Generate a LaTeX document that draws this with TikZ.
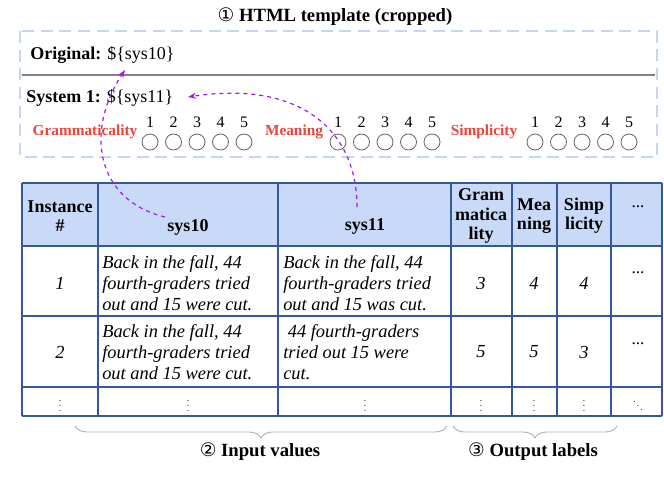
\documentclass[tikz,border=0pt]{standalone}
\usepackage{fontspec}
\setmainfont{Liberation Serif}
\newfontfamily\symf{DejaVu Sans}
\usetikzlibrary{decorations.pathreplacing,arrows.meta}
\definecolor{hdr}{HTML}{C9DAF8}
\definecolor{bord}{HTML}{34589A}
\definecolor{purp}{HTML}{9B1EF0}
\definecolor{redl}{HTML}{E8453C}
\definecolor{dashb}{HTML}{C5D6F5}
\tikzset{
 cell/.style={font=\fontsize{13.8}{16}\selectfont\itshape,align=left,inner sep=0pt},
 hcell/.style={font=\fontsize{13.5}{14.5}\selectfont\bfseries,align=center,inner sep=0pt},
 rate/.style={font=\fontsize{11.5}{13}\selectfont\bfseries,text=redl,inner sep=0pt},
 num/.style={font=\fontsize{12}{13}\selectfont,inner sep=0pt},
 radio/.style={circle,draw=gray!80!black,line width=0.6pt,minimum size=12pt,inner sep=0pt},
 link/.style={purp,dashed,line width=0.9pt,-{Stealth[length=6pt]}},
 brc/.style={draw=gray!60,line width=0.7pt,decorate,decoration={brace,mirror,amplitude=9pt}},
 lab/.style={font=\fontsize{14}{16}\selectfont\bfseries,inner sep=0pt}
}
\begin{document}
\begin{tikzpicture}[x=0.75pt,y=-0.75pt]
\useasboundingbox (0,0) rectangle (664,495);
% template
\node[lab] (t1) at (335,17) {{\symf\mdseries ①} HTML template (cropped)};
\draw[dashb,dashed,line width=1.5pt,dash pattern=on 9pt off 5pt] (20,31) rectangle (657,157);
\draw[gray,line width=0.9pt] (22,75) -- (655,75);
\node[anchor=west,font=\fontsize{13.5}{15}\selectfont,inner sep=0pt] (orig) at (30,55) {\textbf{Original:} \$\{sys10\}};
\node[anchor=west,font=\fontsize{13.5}{15}\selectfont,inner sep=0pt] (sys1) at (26,98) {\textbf{System 1:} \$\{sys11\}};
\coordinate (sysv10) at (125,70);
\coordinate (sysv11) at (188,97);
\node[rate] (g) at (85,132) {Grammaticality};
\node[rate] (m) at (294,132) {Meaning};
\node[rate] (s) at (484,132) {Simplicity};
\foreach \b/\n in {150/g,338/m,535/s}{
 \foreach \i in {1,...,5}{
  \node[num] (n\n\i) at ({\b+(\i-1)*23.5},122) {\i};
  \node[radio] (r\n\i) at ({\b+(\i-1)*23.5},142) {};
 }}
% table
\fill[hdr] (22,183) rectangle (662,246);
\foreach \y in {183,246,316,387,416} \draw[bord,line width=1pt] (22,\y) -- (662,\y);
\foreach \x in {22,98,278,451,512,557,611,662} \draw[bord,line width=1pt] (\x,183) -- (\x,416);
\node[hcell] (h0) at (60,216) {Instance\\\#};
\node[hcell] (h1) at (188,227) {sys10};
\node[hcell] (h2) at (365,227) {sys11};
\node[hcell] (h3) at (481,216) {Gram\\matica\\lity};
\node[hcell] (h4) at (534,216) {Mea\\ning};
\node[hcell] (h5) at (584,216) {Simp\\licity};
\node[font=\fontsize{13}{14}\selectfont,inner sep=0pt] (h6) at (638,207) {...};
\node[cell] (a0) at (60,283) {1};
\node[cell,anchor=west] (a1) at (102,283) {Back in the fall, 44\\fourth-graders tried\\out and 15 were cut.};
\node[cell,anchor=west] (a2) at (283,283) {Back in the fall, 44\\fourth-graders tried\\out and 15 was cut.};
\node[cell] (a3) at (481,283) {3};
\node[cell] (a4) at (534,283) {4};
\node[cell] (a5) at (584,283) {4};
\node[font=\fontsize{13}{14}\selectfont,inner sep=0pt] (a6) at (638,273) {...};
\node[cell] (b0) at (60,352) {2};
\node[cell,anchor=west] (b1) at (102,352) {Back in the fall, 44\\fourth-graders tried\\out and 15 were cut.};
\node[cell,anchor=west] (b2) at (283,352) {\ 44 fourth-graders\\tried out 15 were\\cut.};
\node[cell] (b3) at (481,352) {5};
\node[cell] (b4) at (534,352) {5};
\node[cell] (b5) at (584,352) {3};
\node[font=\fontsize{13}{14}\selectfont,inner sep=0pt] (b6) at (638,344) {...};
\foreach \x/\k in {60/0,188/1,365/2,481/3,534/4,584/5}{\node[inner sep=0pt,font=\scriptsize] (c\k) at (\x,402) {$\vdots$};}
\node[inner sep=0pt,font=\scriptsize] (c6) at (638,402) {$\ddots$};
% arrows
\draw[link] (165,217) .. controls (95,200) and (85,130) .. (sysv10);
\draw[link] (357,207) .. controls (357,130) and (300,80) .. (sysv11);
% braces
\draw[brc] (75,426) -- (447,426);
\draw[brc] (453,426) -- (617,426);
\node[lab] (iv) at (260,452) {{\symf\mdseries ②} Input values};
\node[lab] (ol) at (533,452) {{\symf\mdseries ③} Output labels};
\end{tikzpicture}
\end{document}
